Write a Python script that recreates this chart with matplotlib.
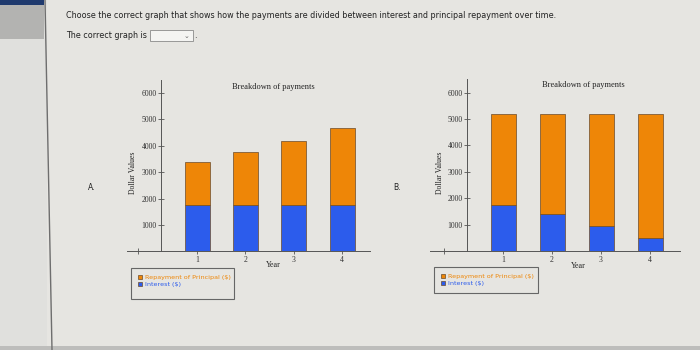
import matplotlib
matplotlib.use("Agg")
import matplotlib.pyplot as plt
from matplotlib.patches import Rectangle
from matplotlib.lines import Line2D

# ---- data ----
years = [1, 2, 3, 4]
a_interest = [1760, 1760, 1760, 1760]
a_principal = [1640, 2020, 2430, 2900]
b_interest = [1760, 1390, 960, 490]
b_principal = [3440, 3810, 4240, 4710]
y_ticks = [1000, 2000, 3000, 4000, 5000, 6000]
title = "Breakdown of payments"
question = ("Choose the correct graph that shows how the payments are divided "
            "between interest and principal repayment over time.")
answer_text = "The correct graph is"
legend_labels = ["Repayment of Principal ($)", "Interest ($)"]

W, H = 700, 350
BG = "#e6e5e1"
ORANGE = "#ee8607"
BLUE = "#2c5cec"
EDGE = "#6a4a2a"

fig = plt.figure(figsize=(7, 3.5), dpi=100, facecolor=BG)

def fx(px):
    return px / W

def fy(py):
    return 1 - py / H

# sidebar decoration
fig.patches.append(Rectangle((0, 0), fx(47), 1, transform=fig.transFigure,
                             facecolor="#e0e0dd", edgecolor="none", zorder=0))
fig.patches.append(Rectangle((0, fy(39)), fx(44), fy(5) - fy(39), transform=fig.transFigure,
                             facecolor="#b3b3b1", edgecolor="none", zorder=0))
fig.patches.append(Rectangle((0, fy(5)), fx(44), 1 - fy(5), transform=fig.transFigure,
                             facecolor="#1f3a6e", edgecolor="none", zorder=0))
fig.lines.append(Line2D([fx(45), fx(52)], [1, 0], transform=fig.transFigure,
                        color="#6e6e6e", lw=1.0))
fig.patches.append(Rectangle((0, 0), 1, fy(346), transform=fig.transFigure,
                             facecolor="#bdbdbb", edgecolor="none", zorder=0))

# header text
fig.text(fx(66), fy(15), question, fontsize=5.75, color="#222222",
         family="DejaVu Sans", va="center", ha="left")
fig.text(fx(66), fy(35), answer_text, fontsize=5.75, color="#222222",
         family="DejaVu Sans", va="center", ha="left")
fig.patches.append(Rectangle((fx(150), fy(41)), fx(43), fy(30) - fy(41),
                             transform=fig.transFigure, facecolor="#f4f4f2",
                             edgecolor="#8a8a8a", lw=0.6))
fig.text(fx(186), fy(35.5), "\u2304", fontsize=5, color="#666666",
         va="center", ha="center", family="DejaVu Sans")
fig.text(fx(194), fy(36), ".", fontsize=5.75, color="#222222", va="center")

fig.text(fx(88), fy(188), "A.", fontsize=5.5, color="#222222", va="center",
         family="DejaVu Sans")
fig.text(fx(393), fy(187), "B.", fontsize=5.5, color="#222222", va="center",
         family="DejaVu Sans")


def make_chart(left_px, right_px, x1_px, x4_px, yaxis_px, zero_py, interest,
               principal, title_xy, ylab_x, year_xy, legend_box):
    unit = (x4_px - x1_px) / 3.0
    xmin = 1 - (x1_px - left_px) / unit
    xmax = 1 + (right_px - x1_px) / unit
    ymax = 6500
    ppk = 26.4
    top_py = zero_py - ymax / 1000 * ppk
    ax = fig.add_axes([fx(left_px), fy(zero_py), fx(right_px - left_px),
                       fy(top_py) - fy(zero_py)])
    ax.set_facecolor("none")
    ax.set_xlim(xmin, xmax)
    ax.set_ylim(0, ymax)
    bw = 25 / unit
    b1 = ax.bar(years, interest, width=bw, color=BLUE, edgecolor=EDGE,
                linewidth=0.5, zorder=3)
    b2 = ax.bar(years, principal, bottom=interest, width=bw, color=ORANGE,
                edgecolor=EDGE, linewidth=0.5, zorder=3)
    for s in ["top", "right"]:
        ax.spines[s].set_visible(False)
    yx = 1 - (x1_px - yaxis_px) / unit
    ax.spines["left"].set_position(("data", yx))
    ax.spines["left"].set_color("#555555")
    ax.spines["bottom"].set_color("#555555")
    ax.spines["left"].set_linewidth(0.7)
    ax.spines["bottom"].set_linewidth(0.7)
    ax.set_yticks(y_ticks)
    ax.set_yticklabels([str(v) for v in y_ticks], family="Liberation Serif",
                       fontsize=5.6, color="#333333")
    ax.tick_params(axis="y", direction="inout", length=5, width=0.6,
                   color="#555555", pad=0.5)
    ticks_x = [1 - (x1_px - (yaxis_px - 23)) / unit] + years
    ax.set_xticks(ticks_x)
    ax.set_xticklabels([""] + [str(v) for v in years], family="Liberation Serif",
                       fontsize=5.6, color="#333333")
    ax.tick_params(axis="x", direction="inout", length=5, width=0.6,
                   color="#555555", pad=1)
    fig.text(fx(title_xy[0]), fy(title_xy[1]), title, family="Liberation Serif",
             fontsize=6, ha="center", va="center", color="#222222")
    fig.text(fx(ylab_x), fy(173), "Dollar Values", family="Liberation Serif",
             fontsize=5.6, rotation=90, ha="center", va="center", color="#222222")
    fig.text(fx(year_xy[0]), fy(year_xy[1]), "Year", family="Liberation Serif",
             fontsize=5.8, ha="center", va="center", color="#222222")
    # legend
    lx0, ly0, lx1, ly1 = legend_box
    fig.patches.append(Rectangle((fx(lx0), fy(ly1)), fx(lx1 - lx0), fy(ly0) - fy(ly1),
                                 transform=fig.transFigure, facecolor="none",
                                 edgecolor="#666666", lw=0.8))
    leg = ax.legend([b2, b1], legend_labels, loc="upper left",
                    bbox_to_anchor=(fx(lx0 + 1), fy(ly0 + 1)),
                    bbox_transform=fig.transFigure, frameon=False,
                    prop={"family": "DejaVu Sans", "size": 4.6},
                    handlelength=0.6, handleheight=0.6, handletextpad=0.5,
                    labelspacing=0.3, borderpad=0.4)
    for t, c in zip(leg.get_texts(), [ORANGE, BLUE]):
        t.set_color(c)
    return ax


make_chart(127, 370, 197, 342, 161, 251.4, a_interest, a_principal,
           (273, 87), 133, (273, 265), (131, 268, 234, 299))
make_chart(430, 680, 503, 650, 467, 251.0, b_interest, b_principal,
           (583, 85), 440, (578, 266), (434, 267, 538, 293))

fig.savefig("out.png", dpi=100, facecolor=BG)
